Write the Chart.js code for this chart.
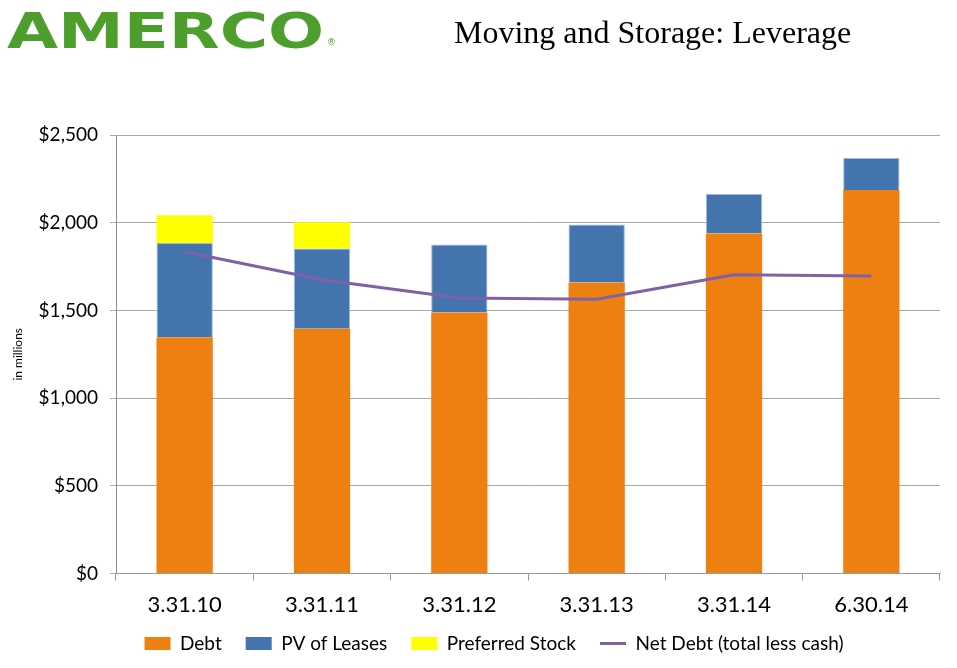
<!DOCTYPE html>
<html>
<head>
<meta charset="utf-8">
<script src="https://cdn.jsdelivr.net/npm/chart.js@4.4.1/dist/chart.umd.min.js"></script>
<style>
  html, body { margin: 0; padding: 0; background: #fff; }
  #wrap { position: relative; width: 957px; height: 668px; overflow: hidden; }
  #logo { position: absolute; left: 7px; top: 6px; font-family: "DejaVu Sans", sans-serif; font-weight: bold; font-size: 50px; color: #4E9E2E; transform: scaleX(1.32); transform-origin: left top; line-height: 1; white-space: nowrap; }
  #reg { position: absolute; left: 327px; top: 37px; font-family: "DejaVu Sans", sans-serif; font-size: 9px; color: #4E9E2E; }
  #title { position: absolute; left: 454px; top: 14px; font-family: "Liberation Serif", "Times New Roman", serif; font-size: 32px; color: #000; white-space: nowrap; }
  canvas { position: absolute; left: 0; top: 0; }
</style>
</head>
<body>
<div id="wrap">
  <canvas id="c" width="957" height="668"></canvas>
  <div id="logo">AMERCO</div>
  <div id="reg">®</div>
  <div id="title">Moving and Storage: Leverage</div>
</div>
<script>
const categories = ["3.31.10", "3.31.11", "3.31.12", "3.31.13", "3.31.14", "6.30.14"];
const debt = [1347, 1395, 1488, 1659, 1939, 2186];
const pvLeases = [538, 458, 388, 331, 224, 183];
const preferredStock = [157, 150, null, null, null, null];
const netDebt = [1834, 1675, 1571, 1564, 1703, 1697];
const yTicks = [0, 500, 1000, 1500, 2000, 2500];

const FONT = "Lato, 'Open Sans', sans-serif";

const legendTweak = {
  id: 'legendTweak',
  beforeLayout(chart) {
    const lg = chart.legend;
    if (lg && !lg._wrapped) {
      const f = lg.fit.bind(lg);
      lg.fit = function () { f(); this.height -= 20; };
      lg._wrapped = true;
    }
  },
  afterLayout(chart) {
    const lg = chart.legend;
    if (lg) {
      lg.top -= 19;
      lg.left += 24; lg.right += 24;
    }
  }
};

new Chart(document.getElementById('c'), {
  type: 'bar',
  data: {
    labels: categories,
    datasets: [
      { type: 'line', label: 'Net Debt (total less cash)', data: netDebt, borderColor: '#7F62A6', backgroundColor: '#7F62A6', borderWidth: 3, pointRadius: 0, pointStyle: 'line', tension: 0, order: 0 },
      { label: 'Debt', data: debt, backgroundColor: '#EE8012', borderWidth: 0, stack: 's', pointStyle: 'rect', order: 1 },
      { label: 'PV of Leases', data: pvLeases, backgroundColor: '#4374AE', borderColor: '#9CB8DC', borderWidth: 1, stack: 's', pointStyle: 'rect', order: 1 },
      { label: 'Preferred Stock', data: preferredStock, backgroundColor: '#FFFF00', borderWidth: 0, stack: 's', pointStyle: 'rect', order: 1 }
    ]
  },
  plugins: [legendTweak],
  options: {
    responsive: false,
    animation: false,
    devicePixelRatio: 1,
    layout: { padding: { top: 135, left: 0, right: 17, bottom: 6 } },
    datasets: { bar: { categoryPercentage: 1, barPercentage: 0.41 } },
    scales: {
      x: {
        stacked: true,
        grid: { display: true, drawOnChartArea: false, drawTicks: true, tickLength: 7, color: '#9A9A9A', offset: true },
        border: { display: true, color: '#9A9A9A', width: 1 },
        ticks: { color: '#000', font: { family: FONT, size: 22 }, padding: 11 }
      },
      y: {
        stacked: true,
        min: 0, max: 2500,
        afterFit: s => { s.width = 116; },
        afterBuildTicks: s => { s.ticks = yTicks.map(v => ({ value: v })); },
        grid: { color: '#A8A8A8', lineWidth: 1, drawTicks: true, tickLength: 6 },
        border: { display: true, color: '#8C8C8C', width: 1 },
        ticks: { color: '#000', font: { family: FONT, size: 19 }, padding: 12,
          callback: v => '$' + Number(v).toLocaleString('en-US') },
        title: { display: true, text: 'in millions', color: '#000', font: { family: FONT, size: 12 }, padding: { top: 11, bottom: 0 } }
      }
    },
    plugins: {
      tooltip: { enabled: false },
      legend: {
        position: 'bottom',
        labels: {
          usePointStyle: true, pointStyleWidth: 26, boxHeight: 13,
          color: '#000', font: { family: FONT, size: 19 }, padding: 24,
          sort: (a, b) => (a.datasetIndex === 0 ? 1 : 0) - (b.datasetIndex === 0 ? 1 : 0) || a.datasetIndex - b.datasetIndex,
          generateLabels: chart => {
            const items = Chart.defaults.plugins.legend.labels.generateLabels(chart);
            items.forEach(it => { if (it.datasetIndex !== 0) it.lineWidth = 0; });
            return items;
          }
        }
      }
    }
  }
});
</script>
</body>
</html>
